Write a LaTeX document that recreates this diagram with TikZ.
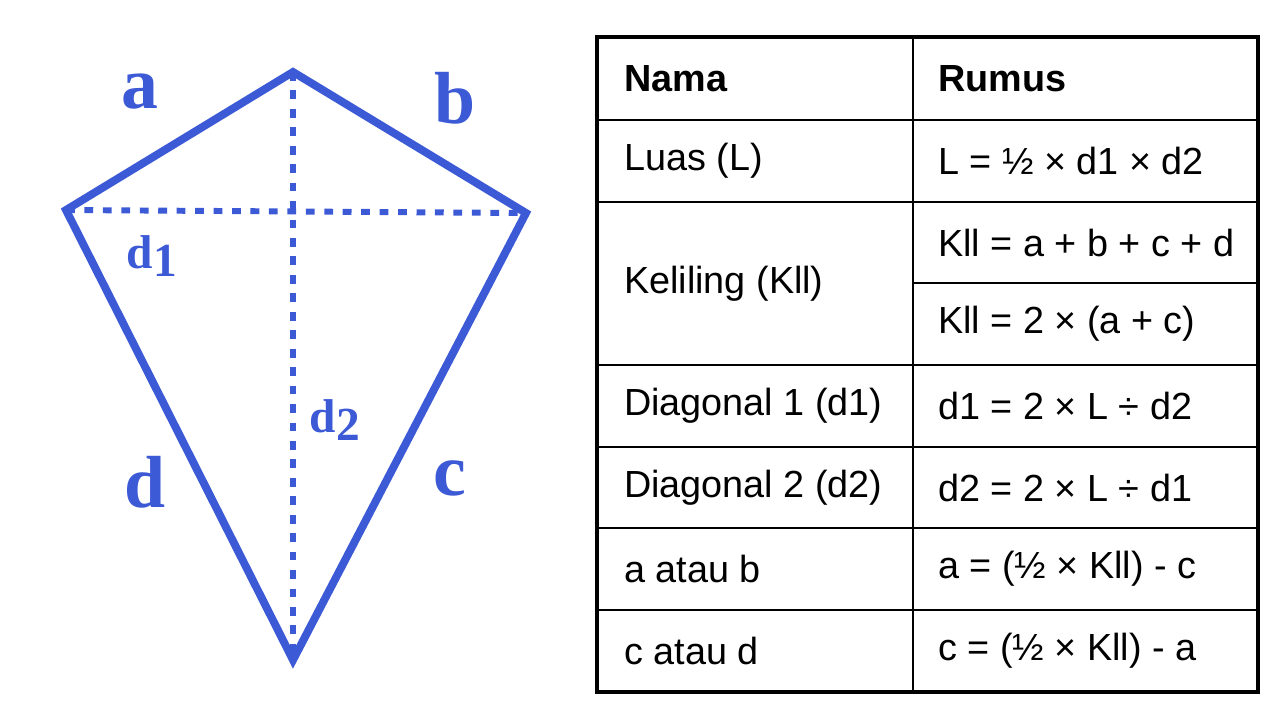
\documentclass[tikz,border=0pt]{standalone}
\usepackage{fontspec}
\setmainfont{Liberation Sans}
\newfontfamily\kitefont{Liberation Serif}
\begin{document}
\begin{tikzpicture}[x=0.02cm,y=-0.02cm,
  kite/.style={draw=kblue,line width=4.5pt,line join=miter},
  diag/.style={draw=kblue,line width=3.4pt,dash pattern=on 5pt off 5.5pt},
  klabel/.style={text=kblue,font=\kitefont\bfseries\fontsize{42}{42}\selectfont},
  sub/.style={text=kblue,font=\kitefont\bfseries\fontsize{27}{27}\selectfont},
  cell/.style={anchor=west,font=\fontsize{21.5}{21.5}\selectfont},
  head/.style={anchor=west,font=\fontsize{21.5}{21.5}\selectfont\bfseries}]
\definecolor{kblue}{HTML}{3D5AD6}
\useasboundingbox (0,0) rectangle (1280,720);
\coordinate (T) at (293,72);
\coordinate (L) at (66,210);
\coordinate (R) at (526,213);
\coordinate (B) at (293,660);
\draw[diag] (L) -- (R);
\draw[diag] (T) -- (B);
\draw[kite] (T) -- (R) -- (B) -- (L) -- cycle;
\node[klabel] (la) at (140,92) {a};
\node[klabel] (lb) at (455,98) {b};
\node[klabel] (ld) at (145,482) {d};
\node[klabel] (lc) at (450,478) {c};
\node[sub] (d1) at (152,256) {d\raisebox{-0.4ex}{1}};
\node[sub] (d2) at (335,420) {d\raisebox{-0.4ex}{2}};
% table
\foreach \y in {120,202,365,447,528,610} \draw[line width=1.2pt] (597,\y) -- (1258,\y);
\draw[line width=1.2pt] (913,283) -- (1258,283);
\draw[line width=1.2pt] (913,37) -- (913,692);
\draw[line width=2.3pt] (597,37) rectangle (1258,692);
\node[head] (h1) at (618,79) {Nama};
\node[head] (h2) at (932,79) {Rumus};
\node[cell] (n1) at (618,161) {Luas (L)};
\node[cell] (r1) at (932,161) {L = ½ × d1 × d2};
\node[cell] (n2) at (618,284) {Keliling (Kll)};
\node[cell] (r2) at (932,243) {Kll = a + b + c + d};
\node[cell] (r3) at (932,324) {Kll = 2 × (a + c)};
\node[cell] (n4) at (618,406) {Diagonal 1 (d1)};
\node[cell] (r4) at (932,406) {d1 = 2 × L ÷ d2};
\node[cell] (n5) at (618,488) {Diagonal 2 (d2)};
\node[cell] (r5) at (932,488) {d2 = 2 × L ÷ d1};
\node[cell] (n6) at (618,569) {a atau b};
\node[cell] (r6) at (932,569) {a = (½ × Kll) - c};
\node[cell] (n7) at (618,651) {c atau d};
\node[cell] (r7) at (932,651) {c = (½ × Kll) - a};
\end{tikzpicture}
\end{document}
